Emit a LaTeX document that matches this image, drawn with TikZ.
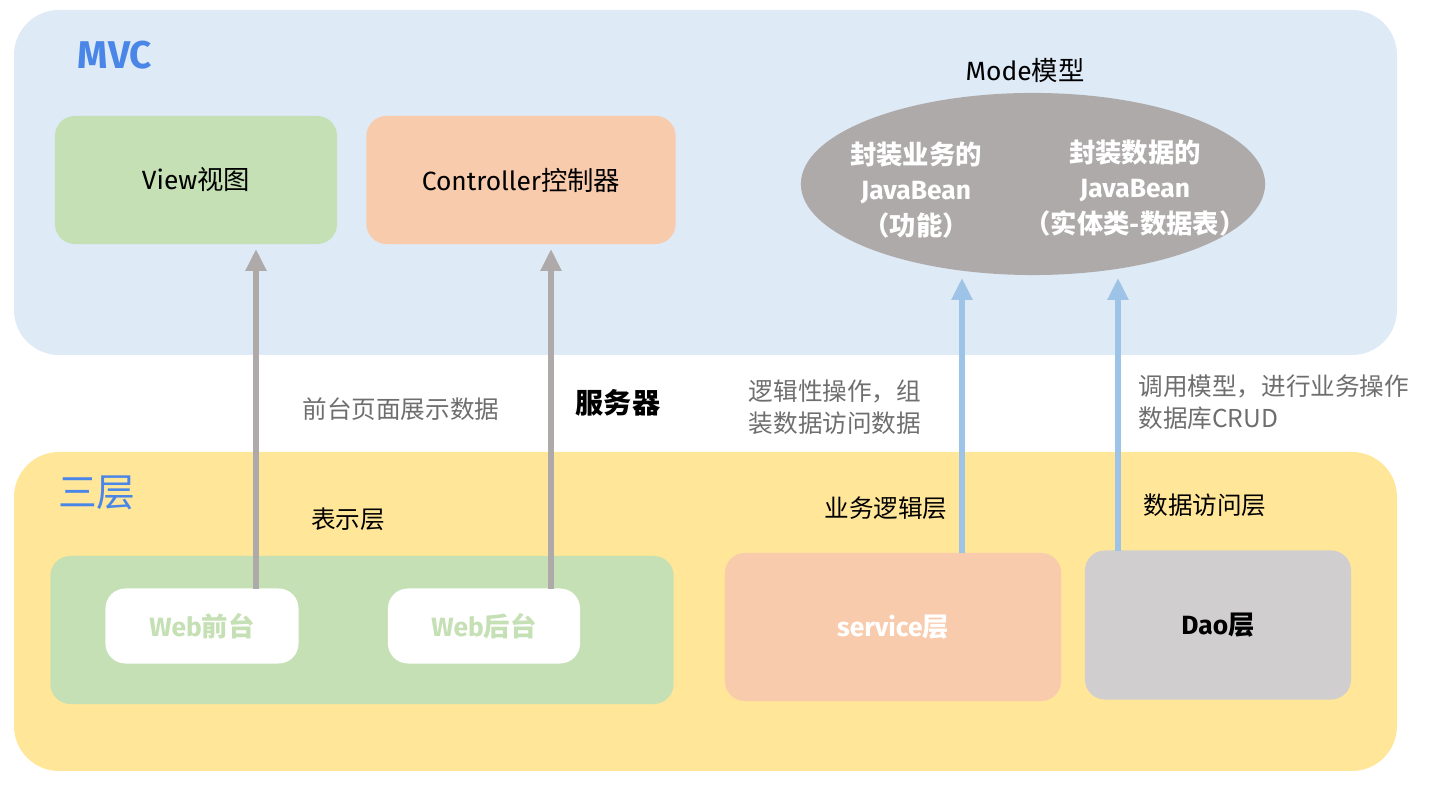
\documentclass[tikz,border=0pt]{standalone}
\usepackage{fontspec}
\setmainfont{Fira Sans}
\newfontfamily\cjk{Noto Sans CJK SC}
\usetikzlibrary{positioning, arrows.meta, shapes.geometric}
\definecolor{mvcbg}{RGB}{222,234,246}
\definecolor{tierbg}{RGB}{255,230,153}
\definecolor{greenbox}{RGB}{197,224,180}
\definecolor{orangebox}{RGB}{248,203,173}
\definecolor{graybox}{RGB}{174,170,170}
\definecolor{daobox}{RGB}{208,206,206}
\definecolor{titleblue}{RGB}{74,134,232}
\definecolor{labelgray}{RGB}{110,110,110}
\definecolor{arrowblue}{RGB}{157,195,230}
\tikzset{
  box/.style={rounded corners=0.2cm, draw=none, inner sep=0pt},
  lbl/.style={font=\cjk\fontsize{7}{9}\selectfont, align=left},
  up/.style={-{Triangle[length=0.22cm,width=0.2cm]}, line width=1.7pt}
}
\begin{document}
\begin{tikzpicture}[x=0.01cm, y=-0.01cm]
  \useasboundingbox (0,0) rectangle (1432,801);

  % MVC and three-tier panels
  \fill[mvcbg, rounded corners=0.45cm] (14,10) rectangle (1397,355);
  \fill[tierbg, rounded corners=0.45cm] (14,452) rectangle (1397,771);
  \node[text=titleblue, font=\bfseries\fontsize{11}{13}\selectfont] (mvc) at (115,55) {MVC};
  \node[text=titleblue, font=\cjk\fontsize{11}{13}\selectfont] (three) at (97,493) {三层};

  % MVC parts
  \node[box, fill=greenbox, minimum width=2.82cm, minimum height=1.28cm,
    font=\fontsize{7.5}{9}\selectfont] (view) at (196,180) {View{\cjk 视图}};
  \node[box, fill=orangebox, minimum width=3.09cm, minimum height=1.28cm,
    font=\fontsize{7.5}{9}\selectfont] (ctrl) at (521,180) {Controller{\cjk 控制器}};
  \node[ellipse, fill=graybox, minimum width=4.64cm, minimum height=1.82cm] (model) at (1033,184) {};
  \node[font=\fontsize{7.5}{9}\selectfont] (modelname) at (1025,70) {Mode{\cjk 模型}};
  \node[text=white, align=center, font=\bfseries\fontsize{7.5}{10}\selectfont] (biz) at (916,190)
    {{\cjk 封装业务的}\\JavaBean\\{\cjk （功能）}};
  \node[text=white, align=center, font=\bfseries\fontsize{7.5}{10}\selectfont] (data) at (1135,188)
    {{\cjk 封装数据的}\\JavaBean\\{\cjk （实体类-数据表）}};

  % three-tier parts
  \node[box, fill=greenbox, minimum width=6.23cm, minimum height=1.48cm] (pres) at (362,630) {};
  \node[box, fill=white, minimum width=1.93cm, minimum height=0.75cm, text=greenbox,
    font=\bfseries\fontsize{7.5}{9}\selectfont] (wf) at (202,626) {Web{\cjk 前台}};
  \node[box, fill=white, minimum width=1.92cm, minimum height=0.75cm, text=greenbox,
    font=\bfseries\fontsize{7.5}{9}\selectfont] (wb) at (484,626) {Web{\cjk 后台}};
  \node[box, fill=orangebox, minimum width=3.36cm, minimum height=1.48cm, text=white,
    font=\bfseries\fontsize{7.5}{9}\selectfont] (svc) at (893,627) {service{\cjk 层}};
  \node[box, fill=daobox, minimum width=2.66cm, minimum height=1.49cm,
    font=\bfseries\fontsize{7.5}{9}\selectfont] (dao) at (1218,625) {Dao{\cjk 层}};

  % anchor points of the arrows
  \coordinate (wfup) at (256,589);
  \coordinate (viewdn) at (256,249);
  \coordinate (wbup) at (551,589);
  \coordinate (ctrldn) at (551,249);
  \coordinate (svcup) at (962,553);
  \coordinate (bizdn) at (962,278);
  \coordinate (daoup) at (1118,551);
  \coordinate (datadn) at (1118,278);
  \draw[up, graybox] (wfup) -- (viewdn);
  \draw[up, graybox] (wbup) -- (ctrldn);
  \draw[up, arrowblue] (svcup) -- (bizdn);
  \draw[up, arrowblue] (daoup) -- (datadn);

  % labels
  \node[lbl, text=labelgray] (showdata) at (401,409) {前台页面展示数据};
  \node[lbl, font=\cjk\bfseries\fontsize{8}{10}\selectfont] (server) at (618,403) {服务器};
  \node[lbl, text=labelgray] (logic) at (835,407) {逻辑性操作，组\\装数据访问数据};
  \node[lbl, text=labelgray, anchor=west] (call) at (1126,402) {调用模型，进行业务操作\\数据库CRUD};
  \node[lbl] (presname) at (348,519) {表示层};
  \node[lbl] (bizname) at (886,508) {业务逻辑层};
  \node[lbl] (daoname) at (1205,505) {数据访问层};
\end{tikzpicture}
\end{document}
